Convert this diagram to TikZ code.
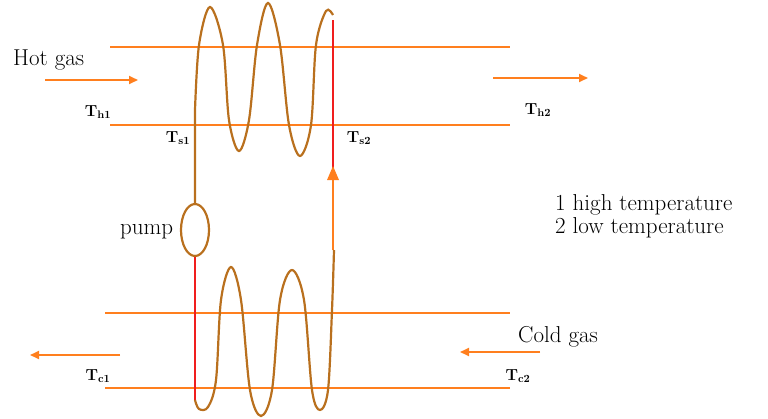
\documentclass[tikz,border=0pt]{standalone}
\usepackage{tikz}
\usetikzlibrary{arrows.meta,shapes.geometric}
\definecolor{org}{RGB}{255,127,30}
\definecolor{brn}{RGB}{185,112,30}
\definecolor{rd}{RGB}{240,30,30}
\begin{document}
\begin{tikzpicture}[x=1pt,y=-1pt,
  gas/.style={org,line width=2.2pt},
  coil/.style={brn,line width=2.2pt},
  flow/.style={org,line width=1.8pt,-{Triangle[length=9pt,width=8pt]}},
  lbl/.style={font=\fontsize{16}{19}\selectfont\bfseries,inner sep=0pt},
  txt/.style={font=\fontsize{23}{27}\selectfont,inner sep=0pt,anchor=west}]
\useasboundingbox (0,0) rectangle (768,418);
% gas lines
\draw[gas] (110,47) -- (510,47);
\draw[gas] (110,125) -- (510,125);
\draw[gas] (105,313) -- (510,313);
\draw[gas] (105,388) -- (510,388);
% pump
\node[draw=brn,line width=2.2pt,ellipse,minimum width=28pt,minimum height=52pt,inner sep=0pt] (pump) at (195,230) {};
\coordinate (tl) at (195,110);
% top coil
\draw[coil] (pump.north) -- (tl) plot[smooth,tension=0.55] coordinates{(195,110)(199,45)(210,7)(223,45)(229,120)(239,151)(249,120)(257,45)(268,3)(280,45)(289,125)(300,156)(311,125)(316,45)(326,11)(333,15)};
\coordinate (rt) at (333,20);
\coordinate (ra) at (333,170);
\coordinate (rb) at (333,250);
\draw[rd,line width=2.2pt] (rt) -- (ra);
\draw[org,line width=2.2pt] (rb) -- (ra);
\fill[org] (333,166) -- (327,180) -- (339,180) -- cycle;
% bottom
\coordinate (bl) at (195,400);
\draw[rd,line width=2.2pt] (pump.south) -- (bl);
\draw[coil] plot[smooth,tension=0.55] coordinates{(195,400)(199,409)(208,407)(216,380)(221,300)(231,267)(241,300)(250,390)(261,416)(272,390)(280,300)(292,270)(304,300)(312,390)(320,410)(328,390)(332,310)(334,250)};
% flows
\node[txt] (hot) at (13,60) {Hot gas};
\coordinate (h1) at (45,80); \coordinate (h2) at (138,80);
\draw[flow] (h1) -- (h2);
\coordinate (h3) at (493,78); \coordinate (h4) at (588,78);
\draw[flow] (h3) -- (h4);
\coordinate (c1) at (120,355); \coordinate (c2) at (30,355);
\draw[flow] (c1) -- (c2);
\coordinate (c3) at (540,352); \coordinate (c4) at (460,352);
\draw[flow] (c3) -- (c4);
\node[txt] (cold) at (518,337) {Cold gas};
\node[txt] (pl) at (120,232) {pump};
\node[lbl] (th1) at (98,112) {T$_{\mathbf{h1}}$};
\node[lbl] (th2) at (538,110) {T$_{\mathbf{h2}}$};
\node[lbl] (ts1) at (178,138) {T$_{\mathbf{s1}}$};
\node[lbl] (ts2) at (359,138) {T$_{\mathbf{s2}}$};
\node[lbl] (tc1) at (98,376) {T$_{\mathbf{c1}}$};
\node[lbl] (tc2) at (518,376) {T$_{\mathbf{c2}}$};
\node[txt] (n1) at (555,205) {1 high temperature};
\node[txt] (n2) at (555,228) {2 low temperature};
\end{tikzpicture}
\end{document}
